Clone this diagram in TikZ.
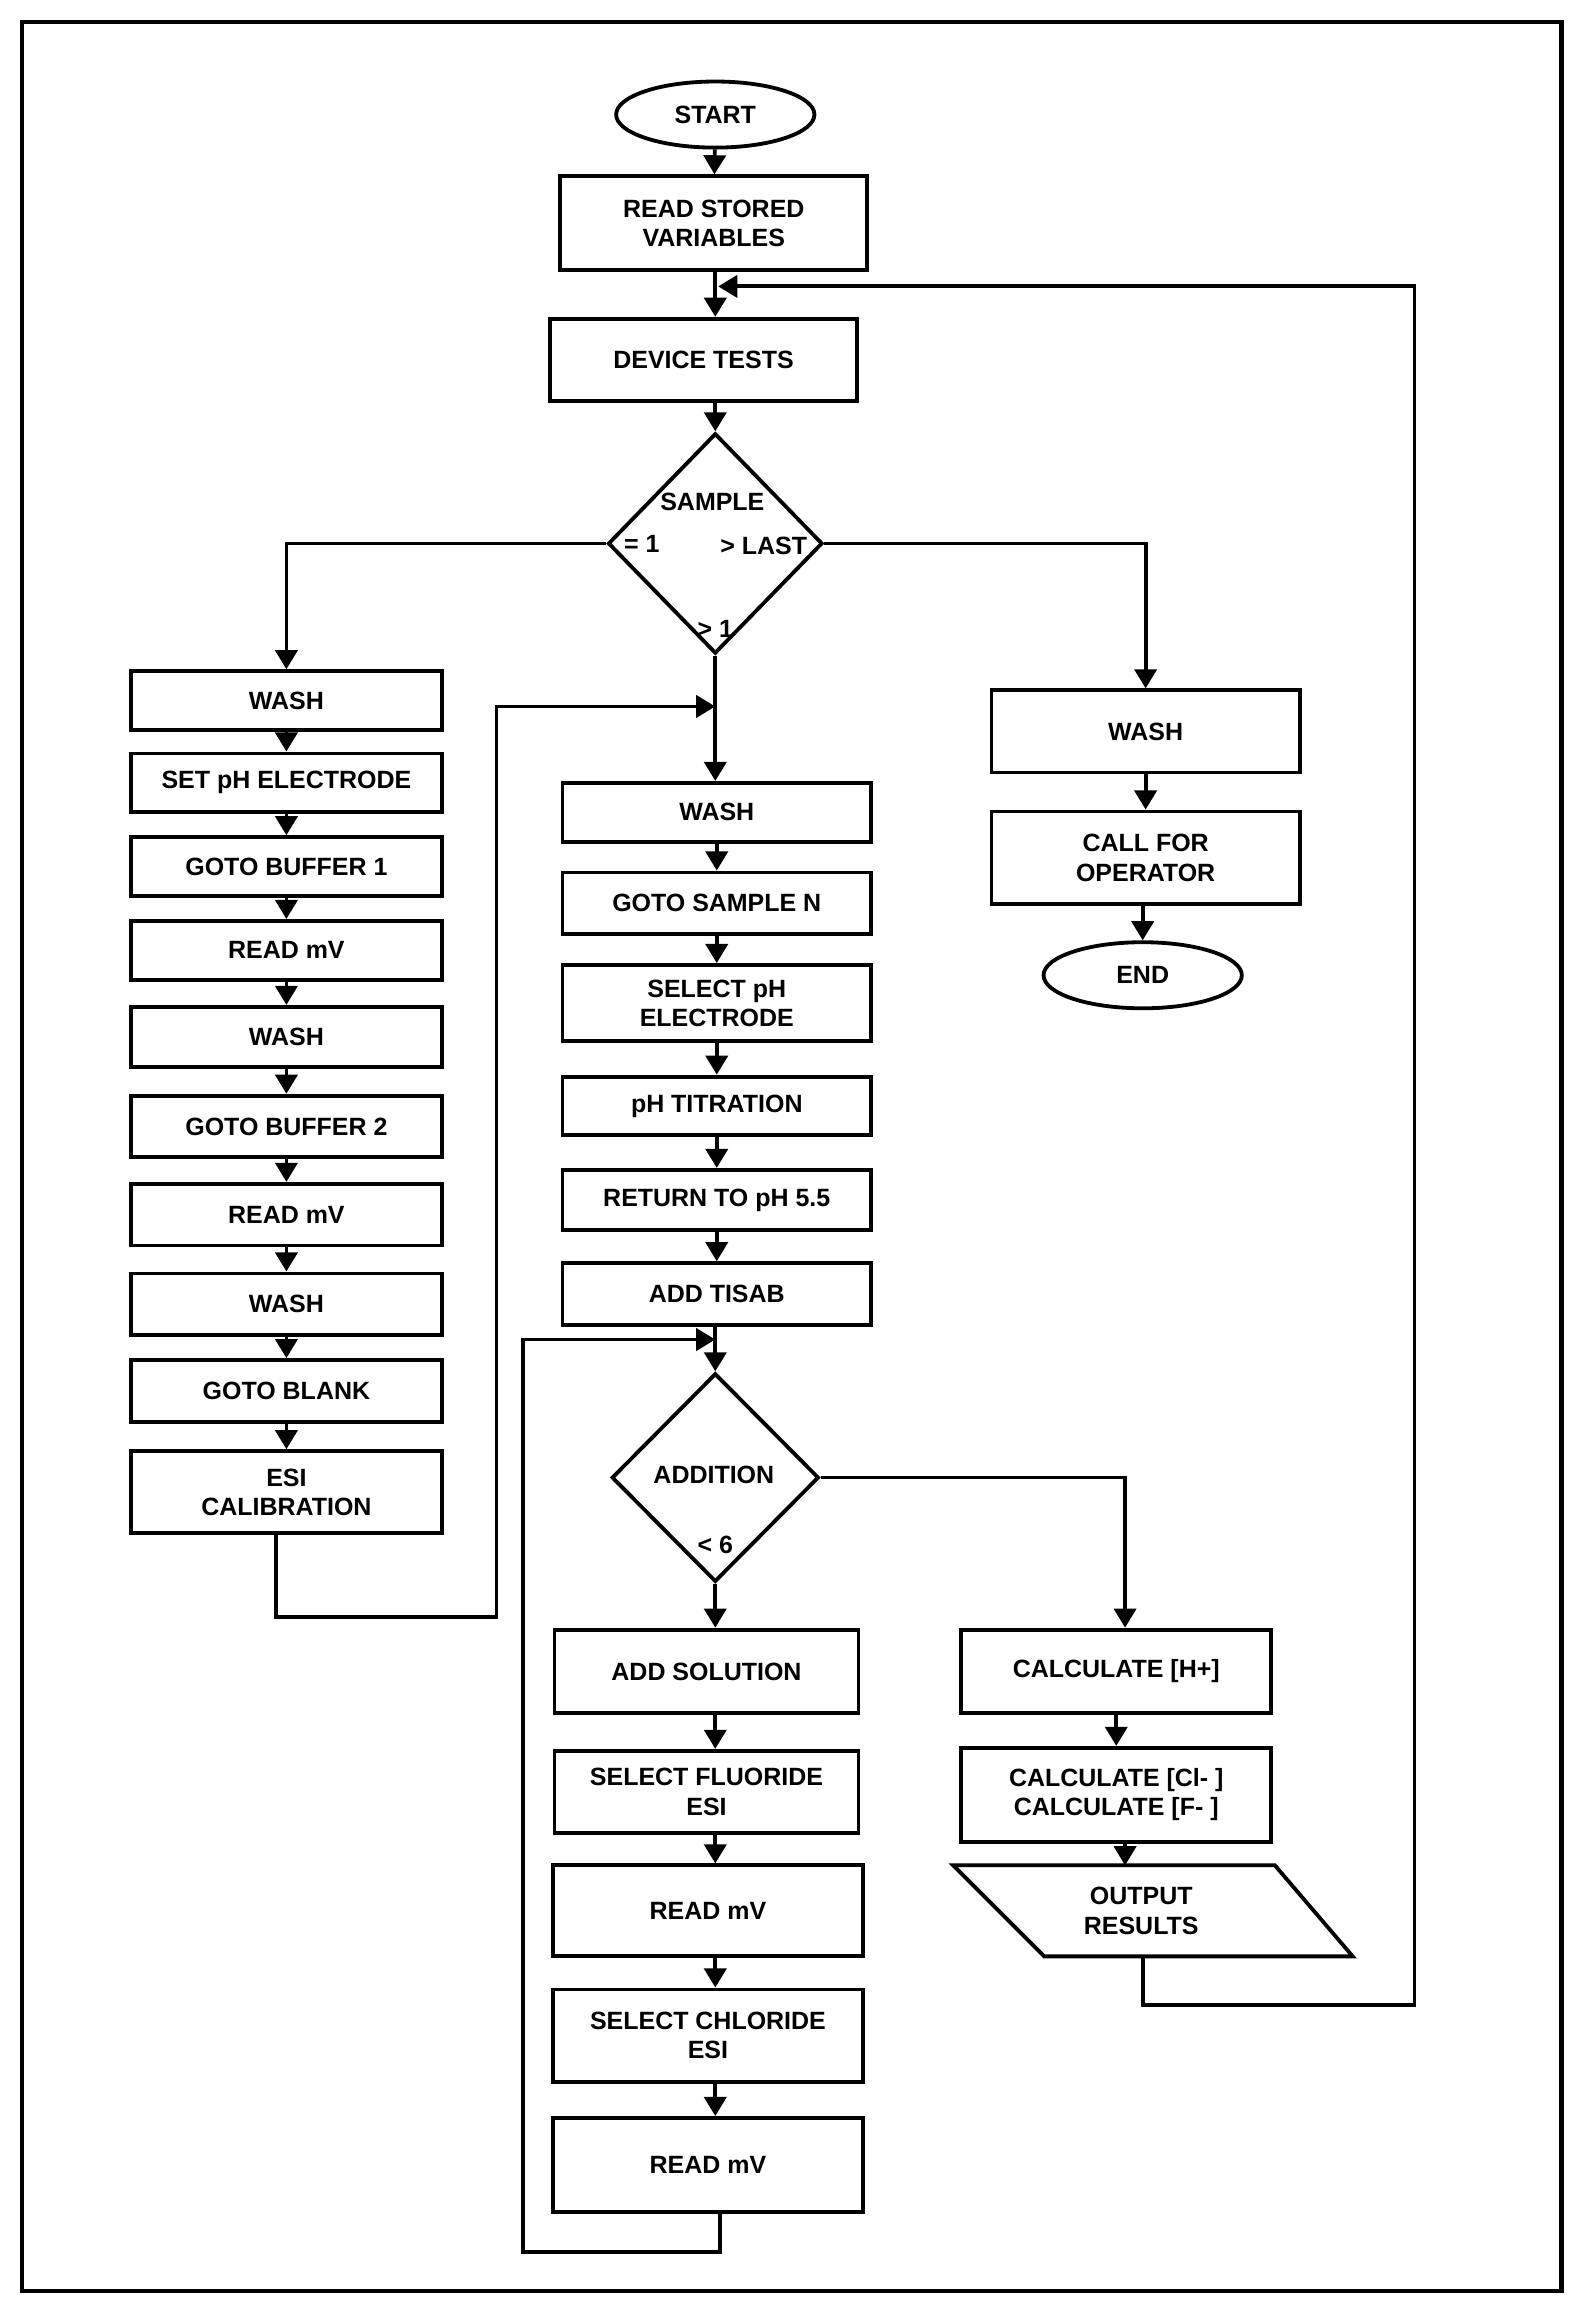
\documentclass[tikz,border=0pt]{standalone}
\usepackage{fontspec}
\setmainfont{Liberation Sans}
\usetikzlibrary{shapes.geometric,arrows.meta}
\begin{document}
\begin{tikzpicture}[x=1pt,y=-1pt,
  every node/.style={font=\fontsize{17}{20}\selectfont\bfseries, align=center, inner sep=0pt},
  box/.style={draw, line width=2.6pt, rectangle},
  term/.style={draw, line width=2.6pt, ellipse, minimum width=135, minimum height=45},
  dec/.style={draw, line width=2.6pt, diamond, minimum width=146, minimum height=150},
  arr/.style={line width=2.6pt, -{Triangle[length=13pt,width=15pt]}},
  ln/.style={line width=2.6pt}]
\useasboundingbox (0,0) rectangle (1071,1568);
\draw[line width=3pt] (15,15) rectangle (1063,1560);

% top
\node[term] (start) at (487,78) {START};
\node[box, minimum width=209, minimum height=64] (rsv) at (486,152) {READ STORED\\VARIABLES};
\node[box, minimum width=209, minimum height=56] (dt) at (479,245) {DEVICE TESTS};
\node[dec] (sam) at (487,370) {};
\node (samt) at (485,342) {SAMPLE};
\node (eq1) at (437,370) {= 1};
\node (gl) at (520,372) {> LAST};
\node (g1) at (487,428) {> 1};

% left column
\foreach \n/\y/\h/\t in {w1/477/40/WASH, sph/533/40/SET pH ELECTRODE, gb1/590/40/GOTO BUFFER 1,
  rm1/647/40/READ mV, w2/706/41/WASH, gb2/767/42/GOTO BUFFER 2, rm2/827/42/READ mV,
  w3/888/42/WASH, gbl/947/42/GOTO BLANK}
  \node[box, minimum width=212, minimum height=\h] (\n) at (195,\y) {\t};
\node[box, minimum width=212, minimum height=56] (esi) at (195,1016) {ESI\\CALIBRATION};

% middle column
\foreach \n/\y/\h/\t in {mw/553/40/WASH, gsn/615/42/GOTO SAMPLE N, pht/753/40/pH TITRATION,
  ret/817/41/RETURN TO pH 5.5, tis/881/42/ADD TISAB}
  \node[box, minimum width=210, minimum height=\h] (\n) at (488,\y) {\t};
\node[box, minimum width=210, minimum height=52] (sel) at (488,683) {SELECT pH\\ELECTRODE};
\node[dec, minimum width=141, minimum height=142] (add) at (487,1006) {};
\node (addt) at (486,1004) {ADDITION};
\node (l6) at (487,1052) {< 6};

% lower middle column
\node[box, minimum width=207, minimum height=57] (as) at (481,1138) {ADD SOLUTION};
\node[box, minimum width=207, minimum height=56] (sf) at (481,1220) {SELECT FLUORIDE\\ESI};
\node[box, minimum width=211, minimum height=62] (rm3) at (482,1301) {READ mV};
\node[box, minimum width=211, minimum height=63] (sc) at (482,1386) {SELECT CHLORIDE\\ESI};
\node[box, minimum width=211, minimum height=64] (rm4) at (482,1474) {READ mV};

% right column
\node[box, minimum width=211, minimum height=57] (ch) at (760,1138) {CALCULATE [H+]};
\node[box, minimum width=211, minimum height=64] (ccl) at (760,1222) {CALCULATE [Cl-~]\\CALCULATE [F-~]};
\draw[ln] (649,1270) -- (868,1270) -- (921,1332) -- (711,1332) -- cycle;
\node (out) at (777,1301) {OUTPUT\\RESULTS};
\coordinate (outb) at (778,1332);

% right top
\node[box, minimum width=210, minimum height=56] (rw) at (780,498) {WASH};
\node[box, minimum width=210, minimum height=63] (cfo) at (780,584) {CALL FOR\\OPERATOR};
\node[term] (end) at (778,664) {END};

% connectors
\draw[arr] (start) -- (rsv);
\draw[arr] (rsv.south -| start) -- (start |- dt.north);
\draw[arr] (dt.south -| sam) -- (sam.north);
\draw[arr] (sam.west) -| (w1.north);
\draw[arr] (sam.east) -| (rw.north);
\draw[arr] (sam.south) -- (sam.south |- mw.north);
\foreach \a/\b in {w1/sph, sph/gb1, gb1/rm1, rm1/w2, w2/gb2, gb2/rm2, rm2/w3, w3/gbl, gbl/esi}
  \draw[arr] (\a) -- (\b);
\coordinate (j1) at (487,481);
\draw[arr] (esi.south -| 188,0) -- (188,1101) -- (338,1101) -- (338,481) -- (j1);
\foreach \a/\b in {mw/gsn, gsn/sel, sel/pht, pht/ret, ret/tis}
  \draw[arr] (\a) -- (\b);
\draw[arr] (tis.south -| add) -- (add.north);
\draw[arr] (add.south) -- (add.south |- as.north);
\draw[arr] (add.east) -| (ch.north -| 766,0);
\foreach \a/\b in {as/sf, sf/rm3, rm3/sc, sc/rm4}
  \draw[arr] (\a.south -| 487,0) -- (\b.north -| 487,0);
\coordinate (j2) at (487,912);
\draw[arr] (rm4.south -| 490,0) -- (490,1533) -- (356,1533) -- (356,912) -- (j2);
\draw[arr] (ch) -- (ccl);
\draw[arr] (ccl.south -| 766,0) -- (766,1270);
\coordinate (j3) at (489,195);
\draw[arr] (outb) -- (778,1365) -- (963,1365) -- (963,195) -- (j3);
\draw[arr] (rw) -- (cfo);
\draw[arr] (cfo.south -| end) -- (end.north);
\end{tikzpicture}
\end{document}
